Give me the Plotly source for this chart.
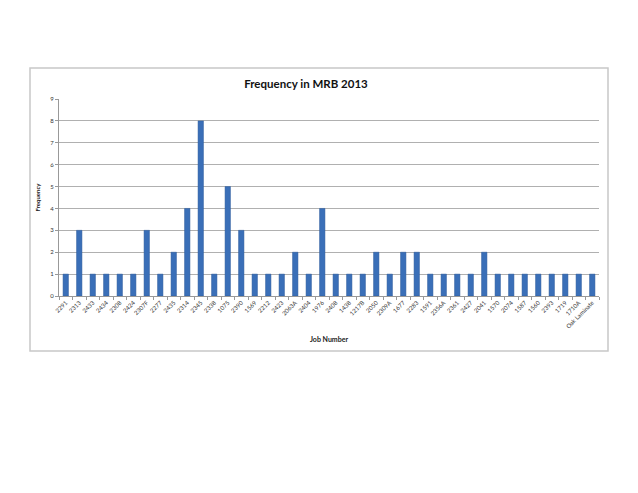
import plotly.graph_objects as go

jobs = ["2291", "2313", "2433", "2434", "2308", "2424", "2307F", "2277", "2435", "2314",
        "2345", "2338", "1075", "2390", "1569", "2212", "2423", "2063A", "2404", "1976",
        "2408", "1438", "1217B", "2050", "2309A", "1677", "2283", "1591", "2356A", "2361",
        "2427", "2041", "1570", "2074", "1587", "1560", "2393", "1719", "1710A", "Oak Laminate"]
frequency = [1, 3, 1, 1, 1, 1, 3, 1, 2, 4,
             8, 1, 5, 3, 1, 1, 1, 2, 1, 4,
             1, 1, 1, 2, 1, 2, 2, 1, 1, 1,
             1, 2, 1, 1, 1, 1, 1, 1, 1, 1]
y_ticks = list(range(0, 10))

W, H = 638, 493
L, R, T, B = 59, 39, 99, 197
pw, ph = W - L - R, H - T - B

def px(x):
    return (x - L) / pw

def py(y):
    return (H - B - y) / ph

fig = go.Figure()
fig.add_trace(go.Bar(
    x=jobs, y=frequency,
    marker=dict(color="#3a6fb8", line=dict(color="#2c5a9a", width=0.5)),
))

fig.update_layout(
    width=W, height=H,
    margin=dict(l=L, r=R, t=T, b=B, autoexpand=False),
    paper_bgcolor="white", plot_bgcolor="white",
    bargap=0.6,
    showlegend=False,
    font=dict(family="Lato, Open Sans, sans-serif", color="#222"),
    title=dict(text="<b>Frequency in MRB 2013</b>", x=px(318), xanchor="center",
               y=1 - 84 / H, yanchor="middle", font=dict(size=11.5, color="#111")),
    xaxis=dict(
        type="category", tickangle=-45, tickfont=dict(size=6, color="#333"), automargin=False,
        showline=True, linecolor="#999", linewidth=1,
        ticks="outside", ticklen=3, tickcolor="#999", tickson="boundaries",
        showgrid=False,
        title=dict(text="<b>Job Number</b>", font=dict(size=7), standoff=8),
    ),
    yaxis=dict(
        range=[0, 9], tickvals=y_ticks, tickfont=dict(size=6, color="#333"), automargin=False,
        showline=True, linecolor="#999", linewidth=1,
        ticks="outside", ticklen=3, tickcolor="#999",
        showgrid=True, gridcolor="#b0b0b0", gridwidth=1,
        title=dict(text="<b>Frequency</b>", font=dict(size=6), standoff=9),
        zeroline=False,
    ),
)

fig.add_shape(type="rect", xref="paper", yref="paper",
              x0=px(30), x1=px(608), y0=py(351), y1=py(68),
              line=dict(color="#c8c8c8", width=1.5), layer="below")

fig.write_html("out.html", config={"displayModeBar": False},
               post_script="document.body.style.margin='0';document.body.style.overflow='hidden';")
